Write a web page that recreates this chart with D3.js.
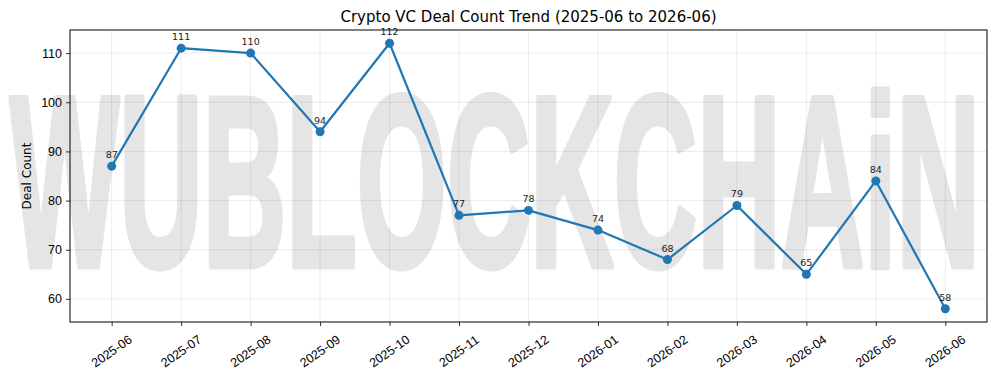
<!DOCTYPE html>
<html>
<head>
<meta charset="utf-8">
<script src="https://cdn.jsdelivr.net/npm/d3@7"></script>
<style>
  body { margin: 0; background: #fff; }
  svg { display: block; font-family: "DejaVu Sans", sans-serif; }
</style>
</head>
<body>
<svg class="chart" width="1000" height="372"></svg>
<script>
// chart data
const months = ["2025-06", "2025-07", "2025-08", "2025-09", "2025-10", "2025-11", "2025-12",
  "2026-01", "2026-02", "2026-03", "2026-04", "2026-05", "2026-06"];
const dealCounts = [87, 111, 110, 94, 112, 77, 78, 74, 68, 79, 65, 84, 58];
const yTicks = [60, 70, 80, 90, 100, 110];

const margin = { top: 30, right: 13, bottom: 50, left: 70 };
const width = 1000 - margin.left - margin.right;
const height = 372 - margin.top - margin.bottom;

const svg = d3.select(".chart");

// watermark behind everything
svg.append("text")
  .attr("x", 10)
  .attr("y", 266)
  .attr("textLength", 970)
  .attr("lengthAdjust", "spacingAndGlyphs")
  .style("font-family", "'Liberation Sans', Arial, sans-serif")
  .style("font-weight", "bold")
  .style("font-size", "244px")
  .attr("fill", "#e5e5e5")
  .attr("stroke", "#e5e5e5")
  .attr("stroke-width", 7)
  .attr("stroke-linejoin", "round")
  .text("WUBLOCKCHAiN");

const g = svg.append("g").attr("transform", `translate(${margin.left},${margin.top})`);

// matplotlib style 5% margins
const x = d3.scaleLinear().domain([-0.6, months.length - 1 + 0.6]).range([0, width]);
const yMin = d3.min(dealCounts), yMax = d3.max(dealCounts);
const pad = (yMax - yMin) * 0.05;
const y = d3.scaleLinear().domain([yMin - pad, yMax + pad]).range([height, 0]);

// grid
g.append("g").selectAll("line").data(months).join("line")
  .attr("x1", (d, i) => x(i)).attr("x2", (d, i) => x(i))
  .attr("y1", 0).attr("y2", height)
  .attr("stroke", "#000").attr("stroke-opacity", 0.1).attr("stroke-width", 0.8);
g.append("g").selectAll("line").data(yTicks).join("line")
  .attr("x1", 0).attr("x2", width)
  .attr("y1", (d) => y(d)).attr("y2", (d) => y(d))
  .attr("stroke", "#000").attr("stroke-opacity", 0.1).attr("stroke-width", 0.8);

// axes
const xAxis = g.append("g")
  .attr("transform", `translate(0,${height})`)
  .call(d3.axisBottom(x).tickValues(d3.range(months.length)).tickFormat((i) => months[i]).tickSize(4).tickPadding(3));
xAxis.selectAll("text")
  .style("font-size", "12.5px")
  .attr("fill", "#000")
  .attr("text-anchor", "middle")
  .attr("dy", null)
  .attr("y", 0)
  .attr("transform", "translate(0,30) rotate(-35)")
  .attr("dominant-baseline", "middle");

const yAxis = g.append("g")
  .call(d3.axisLeft(y).tickValues(yTicks).tickSize(4).tickPadding(4));
yAxis.selectAll("text").style("font-size", "12.5px").attr("fill", "#000");

g.selectAll(".domain").remove();
g.selectAll(".tick line").attr("stroke", "#000").attr("stroke-width", 0.8);

// frame
g.append("rect")
  .attr("width", width).attr("height", height)
  .attr("fill", "none").attr("stroke", "#000").attr("stroke-width", 1);

// line + points
g.append("path")
  .datum(dealCounts)
  .attr("fill", "none")
  .attr("stroke", "#1f77b4")
  .attr("stroke-width", 2.2)
  .attr("stroke-linejoin", "round")
  .attr("d", d3.line().x((d, i) => x(i)).y((d) => y(d)));

g.selectAll(".pt").data(dealCounts).join("circle")
  .attr("class", "pt")
  .attr("cx", (d, i) => x(i)).attr("cy", (d) => y(d))
  .attr("r", 4.5).attr("fill", "#1f77b4");

g.selectAll(".lbl").data(dealCounts).join("text")
  .attr("class", "lbl")
  .attr("x", (d, i) => x(i)).attr("y", (d) => y(d) - 8)
  .attr("text-anchor", "middle")
  .style("font-size", "9.5px")
  .attr("fill", "#222")
  .text((d) => d);

// title and axis label
svg.append("text")
  .attr("x", margin.left + width / 2).attr("y", 22)
  .attr("text-anchor", "middle")
  .style("font-size", "15px")
  .text("Crypto VC Deal Count Trend (2025-06 to 2026-06)");

svg.append("text")
  .attr("transform", `translate(31,${margin.top + height / 2}) rotate(-90)`)
  .attr("text-anchor", "middle")
  .style("font-size", "12px")
  .text("Deal Count");
</script>
</body>
</html>
